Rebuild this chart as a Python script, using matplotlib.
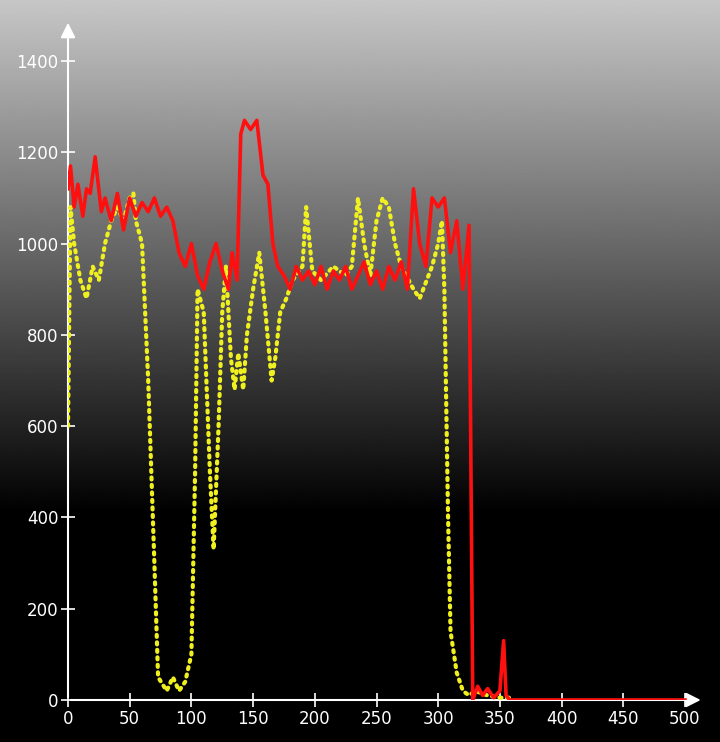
import numpy as np
import matplotlib.pyplot as plt

# red series (solid)
red_x = [0, 2, 5, 8, 12, 15, 18, 22, 27, 30, 35, 40, 45, 50, 55, 60, 65, 70, 75, 80, 85, 90,
         95, 100, 105, 110, 115, 120, 125, 130, 133, 137, 140, 143, 148, 153, 158, 162, 166,
         170, 175, 180, 185, 190, 195, 200, 205, 210, 215, 220, 225, 230, 235, 240, 245, 250,
         255, 260, 265, 270, 275, 280, 285, 290, 295, 300, 305, 310, 315, 320, 325, 328, 332,
         336, 340, 345, 350, 353, 355, 358, 500]
red_y = [1120, 1170, 1080, 1130, 1060, 1120, 1110, 1190, 1070, 1100, 1050, 1110, 1030, 1100,
         1060, 1090, 1070, 1100, 1060, 1080, 1050, 980, 950, 1000, 930, 900, 960, 1000, 940,
         900, 980, 920, 1240, 1270, 1250, 1270, 1150, 1130, 1000, 950, 930, 900, 950, 920, 940,
         910, 950, 900, 940, 920, 950, 900, 930, 960, 910, 940, 900, 950, 920, 960, 900, 1120,
         1000, 950, 1100, 1080, 1100, 980, 1050, 900, 1040, 0, 30, 10, 25, 5, 20, 130, 10, 0, 0]

# yellow series (dotted)
yel_x = [0, 2, 5, 10, 15, 20, 25, 30, 35, 40, 45, 50, 53, 55, 60, 65, 70, 73, 80, 85, 90, 95,
         100, 103, 105, 110, 115, 118, 122, 125, 128, 132, 135, 138, 142, 145, 150, 155, 160,
         165, 168, 172, 177, 182, 190, 193, 198, 205, 215, 225, 230, 235, 240, 245, 250, 255,
         260, 265, 270, 280, 285, 295, 300, 303, 305, 308, 310, 315, 320, 325, 330, 340, 350, 358]
yel_y = [600, 1080, 1000, 920, 880, 950, 920, 1000, 1050, 1080, 1050, 1100, 1110, 1050, 1000,
         700, 300, 50, 20, 50, 20, 40, 100, 500, 900, 850, 500, 330, 600, 850, 950, 750, 680,
         760, 680, 800, 900, 980, 850, 700, 750, 850, 880, 920, 950, 1080, 940, 920, 950, 930,
         950, 1100, 1000, 930, 1050, 1100, 1080, 1000, 950, 900, 880, 950, 1000, 1050, 900, 400,
         150, 60, 20, 10, 20, 10, 5, 5]

xticks = [0, 50, 100, 150, 200, 250, 300, 350, 400, 450, 500]
yticks = [0, 200, 400, 600, 800, 1000, 1200, 1400]

fig = plt.figure(figsize=(7.2, 7.42), dpi=100)

# grey-to-black background
bg = fig.add_axes([0, 0, 1, 1])
grad = np.concatenate([np.linspace(0.78, 0.0, 520), np.zeros(230)])[:, None]
bg.imshow(grad, aspect='auto', cmap='gray', vmin=0, vmax=1, extent=[0, 1, 0, 1])
bg.axis('off')

W, H = 720, 742
ax = fig.add_axes([68 / W, (H - 700) / H, (712 - 68) / W, (700 - 20) / H])
ax.set_facecolor('none')
ax.set_xlim(0, (712 - 68) / 1.234)
ax.set_ylim(0, (700 - 20) / 0.4564)
for s in ax.spines.values():
    s.set_visible(False)

ax.plot(yel_x, yel_y, color='#f0f020', lw=3, ls=(0, (0.5, 1.3)), dash_capstyle='round', zorder=2)
ax.plot(red_x, red_y, color='#ff1010', lw=2.6, zorder=3)

# axes with arrows
ax.annotate('', xy=(515, 0), xytext=(0, 0),
            arrowprops=dict(arrowstyle='-|>', color='white', lw=1.5, mutation_scale=22),
            annotation_clip=False, zorder=1)
ax.annotate('', xy=(0, 1490), xytext=(0, 0),
            arrowprops=dict(arrowstyle='-|>', color='white', lw=1.5, mutation_scale=22),
            annotation_clip=False, zorder=1)

ax.set_xticks(xticks)
ax.set_yticks(yticks)
ax.tick_params(colors='white', direction='inout', length=10, width=1.2, labelsize=12, pad=2)
plt.setp(ax.get_xticklabels(), color='white')
plt.setp(ax.get_yticklabels(), color='white')

fig.savefig('out.png', dpi=100)
